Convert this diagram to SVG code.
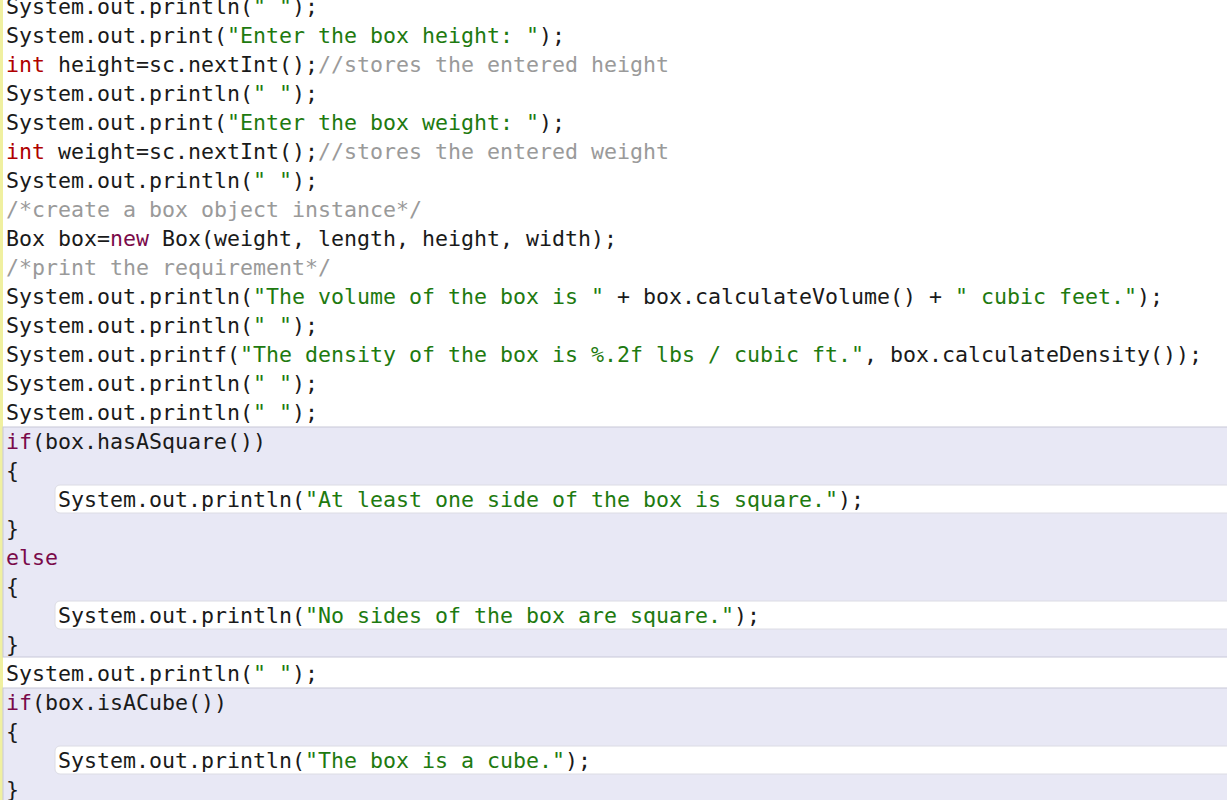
<svg xmlns="http://www.w3.org/2000/svg" width="1227" height="800" viewBox="0 0 1227 800">
<style>
text{font-family:"DejaVu Sans Mono","Liberation Mono",monospace;font-size:21.6px;fill:#1a1a1a;white-space:pre}
.k{fill:#b00000}.p{fill:#7a0a4a}.s{fill:#1e7a10}.c{fill:#9a9a9a}
.blk{fill:#e8e8f5;stroke:#c8c8d8}
.in{fill:#fff;stroke:#dcdce4}
</style>
<rect width="1227" height="800" fill="#fff"/>
<rect x="0" y="0" width="3" height="800" fill="#f0f0a0"/>
<g id="blocks">
<rect class="blk" x="3" y="427" width="1230" height="230"/>
<rect class="in" x="55" y="485" width="1180" height="28" rx="5"/>
<rect class="in" x="55" y="601" width="1180" height="28" rx="5"/>
<rect class="blk" x="3" y="688" width="1230" height="120"/>
<rect class="in" x="55" y="746" width="1180" height="28" rx="5"/>
</g>
<g id="code" xml:space="preserve">
<text x="6" y="14">System.out.println(<tspan class="s">" "</tspan>);</text>
<text x="6" y="43">System.out.print(<tspan class="s">"Enter the box height: "</tspan>);</text>
<text x="6" y="72"><tspan class="k">int</tspan> height=sc.nextInt();<tspan class="c">//stores the entered height</tspan></text>
<text x="6" y="101">System.out.println(<tspan class="s">" "</tspan>);</text>
<text x="6" y="130">System.out.print(<tspan class="s">"Enter the box weight: "</tspan>);</text>
<text x="6" y="159"><tspan class="k">int</tspan> weight=sc.nextInt();<tspan class="c">//stores the entered weight</tspan></text>
<text x="6" y="188">System.out.println(<tspan class="s">" "</tspan>);</text>
<text x="6" y="217" class="c">/*create a box object instance*/</text>
<text x="6" y="246">Box box=<tspan class="p">new</tspan> Box(weight, length, height, width);</text>
<text x="6" y="275" class="c">/*print the requirement*/</text>
<text x="6" y="304">System.out.println(<tspan class="s">"The volume of the box is "</tspan> + box.calculateVolume() + <tspan class="s">" cubic feet."</tspan>);</text>
<text x="6" y="333">System.out.println(<tspan class="s">" "</tspan>);</text>
<text x="6" y="362">System.out.printf(<tspan class="s">"The density of the box is %.2f lbs / cubic ft."</tspan>, box.calculateDensity());</text>
<text x="6" y="391">System.out.println(<tspan class="s">" "</tspan>);</text>
<text x="6" y="420">System.out.println(<tspan class="s">" "</tspan>);</text>
<text x="6" y="449"><tspan class="p">if</tspan>(box.hasASquare())</text>
<text x="6" y="478">{</text>
<text x="58" y="507">System.out.println(<tspan class="s">"At least one side of the box is square."</tspan>);</text>
<text x="6" y="536">}</text>
<text x="6" y="565" class="p">else</text>
<text x="6" y="594">{</text>
<text x="58" y="623">System.out.println(<tspan class="s">"No sides of the box are square."</tspan>);</text>
<text x="6" y="652">}</text>
<text x="6" y="681">System.out.println(<tspan class="s">" "</tspan>);</text>
<text x="6" y="710"><tspan class="p">if</tspan>(box.isACube())</text>
<text x="6" y="739">{</text>
<text x="58" y="768">System.out.println(<tspan class="s">"The box is a cube."</tspan>);</text>
<text x="6" y="797">}</text>
</g>
</svg>
